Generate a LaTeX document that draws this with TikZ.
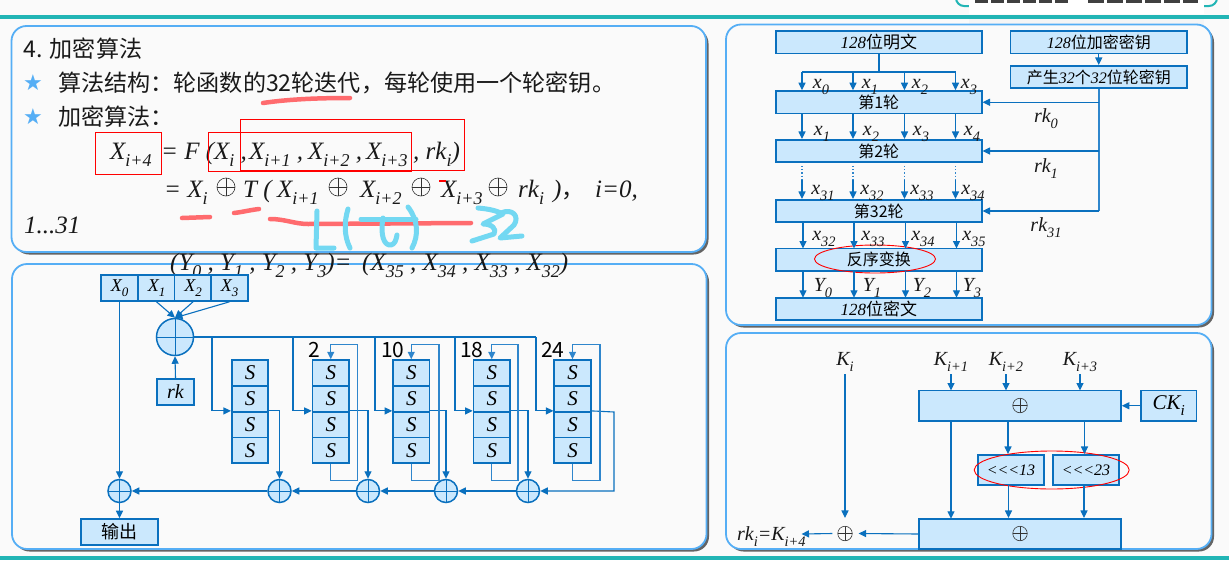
\documentclass[tikz,border=0pt]{standalone}
\usepackage{fontspec}
\usepackage{graphicx}
\setmainfont{Noto Sans CJK SC}
\newfontfamily\tmfont{Liberation Serif}
\newfontfamily\starfont{DejaVu Sans}
\usetikzlibrary{arrows.meta,shapes.geometric,shadows}
\definecolor{panelblue}{HTML}{55AEF5}
\definecolor{boxblue}{HTML}{0A70BE}
\definecolor{boxfill}{HTML}{CBE8FD}
\definecolor{linkblue}{HTML}{2F86CC}
\definecolor{tealbar}{HTML}{22B5B5}
\definecolor{markred}{HTML}{FF6B6E}
\definecolor{markcyan}{HTML}{73D8F2}
\newcommand{\vi}[1]{{\tmfont\itshape #1}}
\newcommand{\subv}[2]{{\tmfont\itshape #1\raisebox{-.3em}{\scalebox{.72}{#2}}}}
\tikzset{
  panel/.style={draw=panelblue, line width=1.8pt, fill=white!98!black, rounded corners=15pt,
    drop shadow={shadow xshift=2.5pt, shadow yshift=-2.5pt, fill=black, opacity=.6}, minimum width=#1, inner sep=0pt},
  cellbox/.style={draw=boxblue, fill=boxfill, line width=1.6pt, inner sep=0pt, font=\fontsize{16}{16}\selectfont},
  sumc/.style={draw=boxblue, fill=boxfill, line width=1.5pt, circle, inner sep=0pt, minimum size=#1,
    path picture={\draw[boxblue, line width=.5pt] (path picture bounding box.north) -- (path picture bounding box.south)
      (path picture bounding box.west) -- (path picture bounding box.east);}},
  xormark/.style={draw=black!80, line width=.6pt, circle, inner sep=0pt, minimum size=#1,
    path picture={\draw[black!80, line width=.6pt] (path picture bounding box.north) -- (path picture bounding box.south)
      (path picture bounding box.west) -- (path picture bounding box.east);}},
  flow/.style={draw=boxblue, line width=1.1pt, -{Triangle[length=7.5pt,width=7pt]}},
  redbox/.style={draw=red, line width=.8pt},
  redring/.style={draw=red, line width=.9pt, ellipse, inner sep=0pt},
  formula/.style={anchor=base west, inner sep=0pt, text=black!90, font=\tmfont\itshape\fontsize{25}{25}\selectfont},
  cnlabel/.style={anchor=west, inner sep=0pt, text=black!90, font=\fontsize{23.1}{24}\selectfont},
  starmark/.style={inner sep=0pt, text=panelblue, font=\starfont\fontsize{22}{22}\selectfont},
  varlabel/.style={anchor=base, inner sep=0pt, text=black!90, font=\fontsize{20}{20}\selectfont},
  redpen/.style={draw=markred, line width=4.5pt, line cap=round, line join=round},
  cyanpen/.style={draw=markcyan, line width=5pt, line cap=round, line join=round}
}
\begin{document}
\begin{tikzpicture}[x=1pt, y=-1pt]
  \useasboundingbox (0, 0) rectangle (1229, 560);
  \fill[white!98!black] (0, 0) rectangle (1229, 560);
  % bars and the cut-off badge
  \begin{scope}
    \clip (0, 0) rectangle (1229, 560);
    \draw[tealbar, line width=2pt, rounded corners=8pt] (956, -20) rectangle (1217, 6);
    \fill[white] (969, 0) rectangle (1204, 14);
    \fill[white!96!black] (969, 19) rectangle (1204, 30);
    \draw[black!75, line width=3.5pt, dash pattern=on 13pt off 3pt] (975, 1) -- (1070, 1);
    \draw[black!75, line width=3.5pt, dash pattern=on 16pt off 3pt] (1088, 1) -- (1198, 1);
    \fill[tealbar] (0, 14.5) rectangle (1229, 19);
    \fill[tealbar] (0, 556) rectangle (1229, 560);
  \end{scope}
  % panels
  \node[panel=694.5pt, minimum height=226pt] (panelA) at (358.75, 139) {};
  \node[panel=694.5pt, minimum height=285pt] (panelB) at (359.25, 406.5) {};
  \node[panel=485.5pt, minimum height=300.5pt] (panelC) at (968.75, 174.75) {};
  \node[panel=485.5pt, minimum height=216pt] (panelD) at (968.75, 441) {};

  % text and formulas
  \node[cnlabel] (title) at (23.5, 49) {4. 加密算法};
  \node[starmark] (starA) at (33, 83) {★};
  \node[cnlabel] (lineA) at (58, 83) {算法结构：轮函数的32轮迭代，每轮使用一个轮密钥。};
  \node[starmark] (starB) at (33, 117) {★};
  \node[cnlabel] (lineB) at (58, 117) {加密算法：};
  \node[formula] (fa) at (110, 159) {\subv{X}{i+4}};
  \node[formula] (fb) at (161, 159) {= F (};
  \node[formula] (fc) at (214, 159) {\subv{X}{i} ,};
  \node[formula] (fd) at (249, 159) {\subv{X}{i+1} ,};
  \node[formula] (fe) at (308, 159) {\subv{X}{i+2} ,};
  \node[formula] (ff) at (366, 159) {\subv{X}{i+3}};
  \node[formula] (fg) at (413, 159) {, \subv{rk}{i})};
  \node[formula] (ga) at (164, 197) {= \subv{X}{i}};
  \node[formula] (gb) at (243, 197) {T (};
  \node[formula] (gc) at (277, 197) {\subv{X}{i+1}};
  \node[formula] (gd) at (360, 197) {\subv{X}{i+2}};
  \node[formula] (ge) at (441, 197) {\subv{X}{i+3}};
  \node[formula] (gf) at (518, 197) {\subv{rk}{i}};
  \node[formula] (gg) at (553, 197) {){\normalfont\fontsize{23}{24}\selectfont ，}};
  \node[formula] (gh) at (595, 197) {i=0,};
  \node[formula] (ha) at (24, 233) {1...31};
  \node[formula] (ia) at (170, 270) {(\subv{Y}{0} , \subv{Y}{1} , \subv{Y}{2} , \subv{Y}{3})=};
  \node[formula] (ib) at (362, 270) {(\subv{X}{35} , \subv{X}{34} , \subv{X}{33} , \subv{X}{32})};
  \foreach \i/\x in {1/226, 2/338, 3/421, 4/498}
    \node[xormark=18pt] (gx\i) at (\x, 187) {};
  \draw[redbox] (95, 132) rectangle (161, 174);
  \draw[redbox] (208, 132) rectangle (411, 171);
  \draw[redbox] (240, 119) rectangle (464, 170);
  \fill[red] (438.5, 180) rectangle (446, 182);

  % pen marks
  \draw[redpen] (263, 103) .. controls (290, 99) and (320, 98) .. (350, 98);
  \draw[redpen] (182, 218) -- (210, 217);
  \draw[redpen] (234, 213) .. controls (243, 212) and (250, 210) .. (259, 209);
  \draw[redpen] (270, 219) .. controls (285, 219) and (295, 224) .. (308, 224) -- (471, 223);
  \draw[cyanpen] (317, 211) -- (316, 248) -- (334, 248);
  \draw[cyanpen] (348, 209) .. controls (344, 222) and (344, 236) .. (350, 248);
  \draw[cyanpen] (361, 219) -- (416, 219);
  \draw[cyanpen] (383, 218) .. controls (380, 235) and (384, 246) .. (391, 245) .. controls (395, 244) and (396, 240) .. (397, 235);
  \draw[cyanpen] (408, 207) .. controls (418, 220) and (419, 235) .. (412, 248);
  \draw[cyanpen] (478, 208) .. controls (490, 209) and (497, 211) .. (503, 214) -- (483, 224) .. controls (492, 224) and (497, 229) .. (494, 234) -- (472, 241);
  \draw[cyanpen] (501, 213) .. controls (512, 208) and (520, 216) .. (514, 225) -- (500, 238) -- (522, 236);

  % round function
  \foreach \i/\x/\t in {0/119.5/0, 1/156.5/1, 2/193/2, 3/229.5/3}
    \node[cellbox, minimum width=36.75pt, minimum height=26pt, font=\fontsize{18}{18}\selectfont] (x\i) at (\x, 288) {\subv{X}{\t}};
  \node[sumc=37pt] (sum) at (175, 337) {};
  \node[cellbox, minimum width=37pt, minimum height=26pt, font=\fontsize{20}{20}\selectfont] (rk) at (175.5, 392) {\vi{rk}};
  \node[sumc=23pt] (o0) at (119.5, 491) {};
  \node[cellbox, minimum width=77pt, minimum height=26pt, font=\fontsize{18}{18}\selectfont] (out) at (119.5, 532) {输出};
  \draw[flow] (x1.south) -- (sum.north);
  \draw[flow] (x2.south) -- (sum.north);
  \draw[flow] (x3.south) -- (sum.north);
  \draw[flow] (rk.north) -- (sum.south);
  \draw[flow] (x0.south) -- (o0.north);
  \draw[flow] (o0.south) -- (out.north);
  \foreach \i/\x/\b in {1/250/212, 2/330.75/293, 3/411.25/375, 4/491.75/455, 5/572.5/536} {
    \foreach \j/\y in {1/373, 2/398.8, 3/424.6, 4/450.2}
      \node[cellbox, minimum width=36.5pt, minimum height=25.8pt, font=\fontsize{21}{21}\selectfont] (s\i c\j) at (\x, \y) {\vi{S}};
    \coordinate (br\i) at (\b, 337);
    \draw[flow] (br\i) |- (s\i c3.north west);
  }
  \draw[boxblue, line width=1.3pt] (sum.east) -- (br5);
  \foreach \i/\x in {1/279.5, 2/368, 3/446, 4/528} {
    \node[sumc=23pt] (o\i) at (\x, 491) {};
    \draw[flow] (s\i c3.north east) -| (o\i.north);
  }
  \coordinate (turn) at (614, 412);
  \draw[flow] (s5c3.north east) -- (turn) |- (o4.east);
  \draw[flow] (o4.west) -- (o3.east);
  \draw[flow] (o3.west) -- (o2.east);
  \draw[flow] (o2.west) -- (o1.east);
  \draw[flow] (o1.west) -- (o0.east);
  \foreach \i/\w/\n/\x in {2/26.75/2/308, 3/27.75/10/381, 4/26.25/18/460, 5/27.5/24/541} {
    \draw[flow, draw=linkblue] (s\i c4.south) -- ++(0, 17) -| ++(\w, -136) -| (s\i c1.north);
    \node[anchor=west, inner sep=0pt, text=black, font=\fontsize{21}{21}\selectfont] (shift\i) at (\x, 350) {\n};
  }

  % encryption flow
  \node[cellbox, minimum width=206pt, minimum height=22.5pt, font=\fontsize{17}{17}\selectfont] (plain) at (878.75, 42.25) {\vi{128}位明文};
  \node[cellbox, minimum width=176.5pt, minimum height=22.5pt] (mkey) at (1098.75, 42.25) {\vi{128}位加密密钥};
  \node[cellbox, minimum width=176.5pt, minimum height=22.5pt] (gen) at (1098.75, 77) {产生\vi{32}个\vi{32}位轮密钥};
  \node[cellbox, minimum width=206pt, minimum height=22.5pt] (roundA) at (878.75, 102.25) {第1轮};
  \node[cellbox, minimum width=206pt, minimum height=22.5pt] (roundB) at (878.75, 151) {第2轮};
  \node[cellbox, minimum width=206pt, minimum height=22.5pt] (roundC) at (878.75, 211) {第32轮};
  \node[cellbox, minimum width=206pt, minimum height=22.5pt] (swap) at (878.75, 259.75) {反序变换};
  \node[cellbox, minimum width=206pt, minimum height=22.5pt, font=\fontsize{17}{17}\selectfont] (cipher) at (878.75, 309) {\vi{128}位密文};
  \node[redring, minimum width=121pt, minimum height=28pt] (swapring) at (875, 259) {};
  \draw[flow] (mkey.south) -- (gen.north);
  \coordinate (fork) at (878.75, 72);
  \draw[boxblue, line width=1.8pt] (plain.south) -- (fork);
  \foreach \i/\x in {1/802, 2/853, 3/904.5, 4/955.5} {
    \coordinate (top\i) at (\x, 72);
    \draw[flow] (top\i) -- (top\i |- roundA.north);
    \draw[flow] (top\i |- roundA.south) -- (top\i |- roundB.north);
    \draw[linkblue, line width=1.2pt, dotted] (\x, 166) -- (\x, 180);
    \coordinate (mid\i) at (\x, 180);
    \draw[flow] (mid\i) -- (mid\i |- roundC.north);
    \draw[flow] (\x+1, 222) -- (\x+1, 248.5);
    \draw[flow] (\x+1, 271) -- (\x+1, 297.75);
  }
  \draw[boxblue, line width=1.1pt] (top1) -- (top4);
  \foreach \n/\x/\s in {a/821/0, b/870/1, c/920/2, d/969/3}
    \node[varlabel] (la\n) at (\x, 88) {\subv{x}{\s}};
  \foreach \n/\x/\s in {a/822/1, b/871/2, c/921/3, d/972/4}
    \node[varlabel] (lb\n) at (\x, 135) {\subv{x}{\s}};
  \foreach \n/\x/\s in {a/823/31, b/872/32, c/922/33, d/973/34}
    \node[varlabel] (lc\n) at (\x, 194) {\subv{x}{\s}};
  \foreach \n/\x/\s in {a/824/32, b/873/33, c/923/34, d/974/35}
    \node[varlabel] (ld\n) at (\x, 240.5) {\subv{x}{\s}};
  \foreach \n/\x/\s in {a/823/0, b/872/1, c/922/2, d/972/3}
    \node[varlabel] (le\n) at (\x, 291) {\subv{Y}{\s}};
  \coordinate (keyline) at (1099, 211);
  \draw[linkblue, line width=1.3pt] (gen.south -| keyline) -- (keyline);
  \draw[flow] (keyline) -- (roundC.east);
  \draw[flow] (keyline |- roundB.east) -- (roundB.east);
  \draw[flow] (keyline |- roundA.east) -- (roundA.east);
  \node[varlabel] (rka) at (1046, 122) {\subv{rk}{0}};
  \node[varlabel] (rkb) at (1046, 172) {\subv{rk}{1}};
  \node[varlabel] (rkc) at (1046, 231) {\subv{rk}{31}};

  % key expansion
  \node[cellbox, minimum width=202pt, minimum height=30.5pt] (mixA) at (1020, 405.75) {};
  \node[cellbox, minimum width=202pt, minimum height=30.5pt] (mixB) at (1020, 534) {};
  \node[xormark=14.5pt] (mixAx) at (1020, 405.5) {};
  \node[xormark=14.5pt] (mixBx) at (1020, 533.5) {};
  \node[cellbox, minimum width=55.75pt, minimum height=30.5pt, font=\fontsize{21}{21}\selectfont] (ck) at (1168.75, 405.75) {\subv{CK}{i}};
  \node[cellbox, minimum width=66.5pt, minimum height=30.5pt] (rotA) at (1011, 470) {\vi{<{}<{}<13}};
  \node[cellbox, minimum width=66pt, minimum height=30.5pt] (rotB) at (1086, 470) {\vi{<{}<{}<23}};
  \node[redring, minimum width=155pt, minimum height=38pt] (rotring) at (1051.7, 470) {};
  \node[varlabel] (ka) at (845, 365) {\subv{K}{i}};
  \node[varlabel] (kb) at (951, 365) {\subv{K}{i+1}};
  \node[varlabel] (kc) at (1006, 365) {\subv{K}{i+2}};
  \node[varlabel] (kd) at (1080, 365) {\subv{K}{i+3}};
  \node[xormark=14.5pt] (kx) at (845, 533.5) {};
  \node[varlabel, anchor=base west] (rkout) at (737, 540) {\subv{rk}{i}\vi{=}\subv{K}{i+4}};
  \draw[flow] (ka.south |- 0, 374) -- ([yshift=8pt]kx.north);
  \draw[flow] (951, 374) -- (951, 390.5);
  \draw[flow] (1006, 374) -- (1006, 390.5);
  \draw[flow] (1080, 374) -- (1080, 390.5);
  \draw[flow] (ck.west) -- (mixA.east);
  \draw[flow] (951, 421) -- (951, 518.75);
  \draw[flow] (1008, 421) -- (rotA.north -| 1008, 0);
  \draw[flow] (1084.5, 421) -- (rotB.north -| 1084.5, 0);
  \draw[flow] (1008.5, 485.25) -- (mixB.north -| 1008.5, 0);
  \draw[flow] (1084, 485.25) -- (mixB.north -| 1084, 0);
  \draw[flow] (mixB.west) -- ([xshift=6pt]kx.east);
  \draw[flow] ([xshift=-5pt]kx.west) -- (801.5, 534);
\end{tikzpicture}
\end{document}
